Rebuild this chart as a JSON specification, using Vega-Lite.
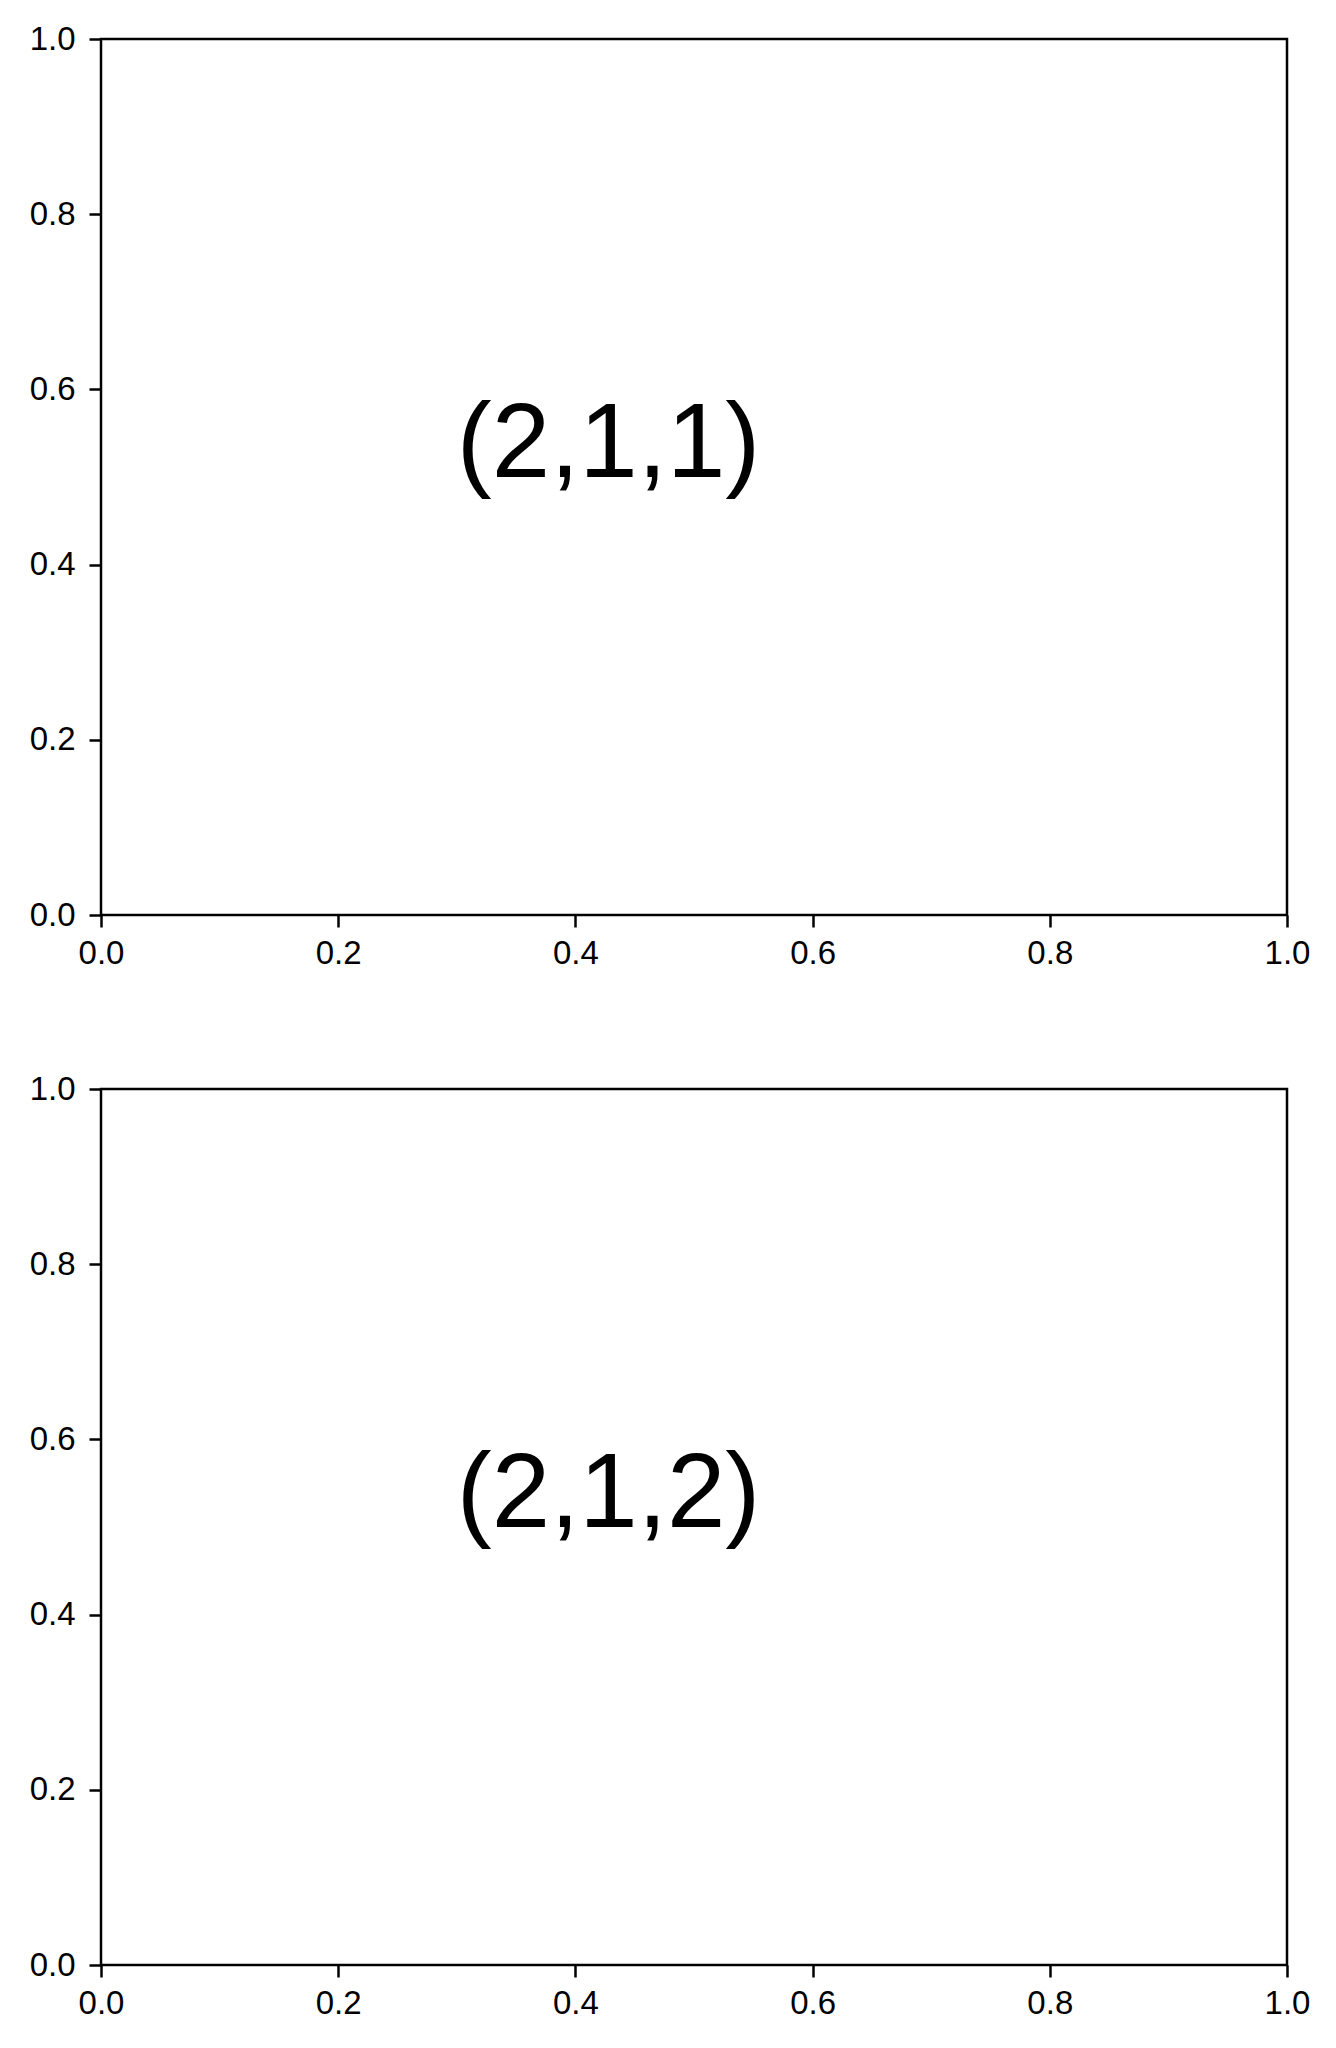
{
  "$schema": "https://vega.github.io/schema/vega-lite/v6.json",
  "background": "white",
  "padding": {"left": 27, "top": 21, "right": 30, "bottom": 20},
  "spacing": 174,
  "bounds": "flush",
  "config": {
    "view": {"stroke": "black", "strokeWidth": 2.5},
    "font": "Liberation Sans",
    "axis": {
      "domain": false,
      "grid": false,
      "ticks": true,
      "tickColor": "black",
      "tickSize": 12,
      "tickWidth": 2.5,
      "labelColor": "black",
      "labelFont": "Liberation Sans",
      "labelFontSize": 33,
      "title": null
    },
    "axisX": {"labelPadding": 10},
    "axisY": {"labelPadding": 14}
  },
  "datasets": {
    "p1": [{"label": "(2,1,1)", "x": 0.3, "y": 0.5}],
    "p2": [{"label": "(2,1,2)", "x": 0.3, "y": 0.5}]
  },
  "vconcat": [
    {
      "width": 1186,
      "height": 876,
      "data": {"name": "p1"},
      "mark": {"type": "text", "align": "left", "baseline": "alphabetic", "fontSize": 105, "font": "Liberation Sans", "color": "black"},
      "encoding": {
        "x": {"field": "x", "type": "quantitative", "scale": {"domain": [0, 1], "nice": false, "zero": false}, "axis": {"values": [0, 0.2, 0.4, 0.6, 0.8, 1.0], "format": ".1f", "labelFlush": false}},
        "y": {"field": "y", "type": "quantitative", "scale": {"domain": [0, 1], "nice": false, "zero": false}, "axis": {"values": [0, 0.2, 0.4, 0.6, 0.8, 1.0], "format": ".1f", "labelFlush": false}},
        "text": {"field": "label"}
      }
    },
    {
      "width": 1186,
      "height": 876,
      "data": {"name": "p2"},
      "mark": {"type": "text", "align": "left", "baseline": "alphabetic", "fontSize": 105, "font": "Liberation Sans", "color": "black"},
      "encoding": {
        "x": {"field": "x", "type": "quantitative", "scale": {"domain": [0, 1], "nice": false, "zero": false}, "axis": {"values": [0, 0.2, 0.4, 0.6, 0.8, 1.0], "format": ".1f", "labelFlush": false}},
        "y": {"field": "y", "type": "quantitative", "scale": {"domain": [0, 1], "nice": false, "zero": false}, "axis": {"values": [0, 0.2, 0.4, 0.6, 0.8, 1.0], "format": ".1f", "labelFlush": false}},
        "text": {"field": "label"}
      }
    }
  ]
}
